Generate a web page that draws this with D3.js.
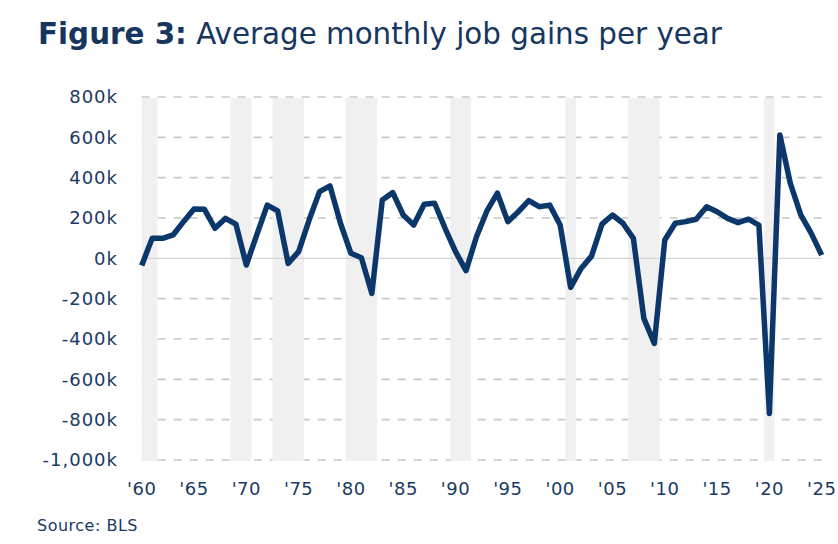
<!DOCTYPE html>
<html>
<head>
<meta charset="utf-8">
<script src="https://cdn.jsdelivr.net/npm/d3@7"></script>
<style>
  body { margin: 0; background: #fff; }
  svg { display: block; }
</style>
</head>
<body>
<div id="chart"></div>
<script>
// Average monthly job gains (thousands), one value per year
var years = d3.range(1960, 2026);
var jobGains = [
  -35, 99, 99, 116, 182, 245, 243, 149, 198, 170,
  -33, 116, 264, 235, -25, 33, 190, 331, 359, 174,
  25, 3, -174, 289, 326, 215, 165, 268, 273, 149,
  33, -61, 107, 235, 323, 182, 231, 286, 256, 264,
  165, -144, -50, 11, 170, 215, 174, 99, -298, -422,
  91, 174, 182, 194, 256, 231, 198, 177, 194, 165,
  -769, 612, 372, 215, 124, 16
];
// recession years (first, last) shaded in grey
var recessions = [
  [1960, 1961], [1969, 1970], [1973, 1975], [1980, 1982],
  [1990, 1991], [2001, 2001], [2007, 2009], [2020, 2020]
];
var yTicks = [800, 600, 400, 200, 0, -200, -400, -600, -800, -1000];
var xTicks = d3.range(1960, 2026, 5);

var W = 838, H = 544;
var navy = "#1a3a64";
var font = "'DejaVu Sans', sans-serif";

var svg = d3.select("#chart").append("svg")
  .attr("width", W)
  .attr("height", H);

var x = d3.scaleLinear().domain([1960, 2025]).range([141.7, 821.7]);
var y = d3.scaleLinear().domain([-1000, 800]).range([460, 97]);

//Title
var title = svg.append("text")
  .attr("x", 38)
  .attr("y", 44)
  .style("font-family", font)
  .style("font-size", "30px")
  .attr("fill", "#17365f");
title.append("tspan").style("font-weight", "bold").text("Figure 3:");
title.append("tspan").text(" Average monthly job gains per year");
// fit the title to its width in the picture
var tw = title.node().getComputedTextLength();
title.style("font-size", (30 * 684 / tw) + "px");

//Grid lines
svg.append("g")
  .selectAll("line")
  .data(yTicks.filter(function(d){return d != 0;}))
  .enter()
  .append("line")
  .attr("x1", x(1960))
  .attr("x2", x(2025))
  .attr("y1", function(d){return y(d);})
  .attr("y2", function(d){return y(d);})
  .style("stroke", "#c8c8c8")
  .style("stroke-width", "1.6px")
  .style("stroke-dasharray", "8,8");

//Recession bands
svg.append("g")
  .selectAll("rect")
  .data(recessions)
  .enter()
  .append("rect")
  .attr("x", function(d){return x(Math.max(1960, d[0] - 0.5));})
  .attr("width", function(d){return x(d[1] + 0.5) - x(Math.max(1960, d[0] - 0.5));})
  .attr("y", y(800) + 1)
  .attr("height", y(-1000) - y(800))
  .style("fill", "#f0f0f0");

//Zero line
svg.append("line")
  .attr("x1", x(1960))
  .attr("x2", x(2025))
  .attr("y1", y(0))
  .attr("y2", y(0))
  .style("stroke", "#d4d4d4")
  .style("stroke-width", "1.2px");

//Y axis labels
function fmtK(d){
  return (d < 0 ? "-" : "") + d3.format(",")(Math.abs(d)) + "k";
}
svg.append("g")
  .selectAll("text")
  .data(yTicks)
  .enter()
  .append("text")
  .attr("x", 118)
  .attr("y", function(d){return y(d);})
  .attr("dy", "0.36em")
  .attr("text-anchor", "end")
  .style("font-family", font)
  .style("font-size", "18px")
  .style("letter-spacing", "1px")
  .attr("fill", navy)
  .text(fmtK);

//X axis labels
svg.append("g")
  .selectAll("text")
  .data(xTicks)
  .enter()
  .append("text")
  .attr("x", function(d){return x(d);})
  .attr("y", 495)
  .attr("text-anchor", "middle")
  .style("font-family", font)
  .style("font-size", "18px")
  .style("letter-spacing", "0.5px")
  .attr("fill", navy)
  .text(function(d){return "'" + String(d).slice(2);});

//Line
var line = d3.line()
  .x(function(d, i){return x(years[i]);})
  .y(function(d){return y(d);});

svg.append("path")
  .datum(jobGains)
  .attr("d", line)
  .style("fill", "none")
  .style("stroke", "#0c376a")
  .style("stroke-width", "5.5px")
  .style("stroke-linejoin", "round");

//Source
svg.append("text")
  .attr("x", 37)
  .attr("y", 531)
  .style("font-family", font)
  .style("font-size", "16px")
  .style("letter-spacing", "0.5px")
  .attr("fill", navy)
  .text("Source: BLS");
</script>
</body>
</html>
